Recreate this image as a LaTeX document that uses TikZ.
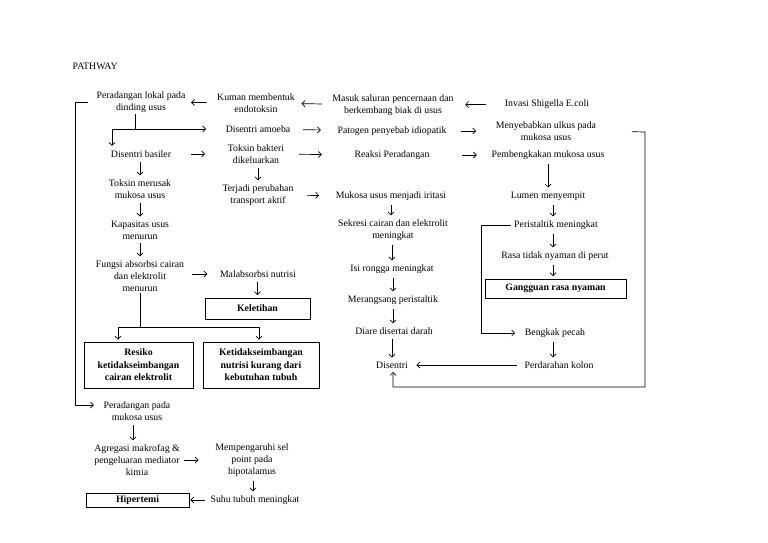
\documentclass[tikz,border=0pt]{standalone}
\usepackage{fontspec}
\setmainfont{Liberation Serif}
\usetikzlibrary{arrows.meta,calc}
\tikzset{
  teks/.style={align=center, inner sep=1.5pt, font=\fontsize{9.8}{12}\selectfont},
  kotak/.style={teks, draw, line width=0.8pt, font=\fontsize{9.8}{12.5}\selectfont\bfseries},
  ar/.style={-{Straight Barb[length=3pt,width=6pt]}, line width=0.7pt},
  av/.style={ar, shorten <=2.5pt, shorten >=2.5pt},
  ln/.style={line width=0.8pt},
  sp/.style 2 args={shorten <=#1pt, shorten >=#2pt},
}
\begin{document}
\begin{tikzpicture}[x=1pt, y=-1pt, every node/.style={teks}]
\useasboundingbox (0,0) rectangle (768,543);
\node[anchor=west] (judul) at (71,66) {PATHWAY};
% baris atas
\node (lokal) at (141,102) {Peradangan lokal pada\\dinding usus};
\node (kuman) at (256,103) {Kuman membentuk\\endotoksin};
\node (masuk) at (393,105) {Masuk saluran pencernaan dan\\berkembang biak di usus};
\node (invasi) at (547,104) {Invasi Shigella E.coli};
\draw[ar, sp={17}{10}] (invasi) -- (masuk);
\draw[ar, sp={9}{5}] (masuk) -- (kuman);
\draw[ar, sp={9}{4}] (kuman) -- (lokal);
% cabang
\coordinate (cab) at (135,129);
\coordinate (cki) at (112,129);
\node (amoeba) at (258,129) {Disentri amoeba};
\node (patogen) at (392,131) {Patogen penyebab idiopatik};
\node (ulkus) at (546,131) {Menyebabkan ulkus pada\\mukosa usus};
\draw[ln] (lokal.south -| cab) -- (cab);
\draw[ar, sp={0}{18}] (cki) -- (amoeba);
\draw[ar, sp={11}{15}] (amoeba) -- (patogen);
\draw[ar, sp={13}{18}] (patogen) -- (ulkus);
% baris 3
\node (basiler) at (141,154) {Disentri basiler};
\node (toksin) at (256,154) {Toksin bakteri\\dikeluarkan};
\node (reaksi) at (392,155) {Reaksi Peradangan};
\node (bengkak) at (548,155) {Pembengkakan mukosa usus};
\draw[ar, sp={0}{3}] (cki) -- (cki |- basiler.north);
\draw[ar, sp={18}{21}] (basiler) -- (toksin);
\draw[ar, sp={13}{31}] (toksin) -- (reaksi);
\draw[ar, sp={31}{13}] (reaksi) -- (bengkak);
% baris 4
\node (merusak) at (140,189) {Toksin merusak\\mukosa usus};
\node (transport) at (258,195) {Terjadi perubahan\\transport aktif};
\node (iritasi) at (391,196) {Mukosa usus menjadi iritasi};
\node (lumen) at (548,196) {Lumen menyempit};
\draw[av] (basiler.south -| merusak.north) -- (merusak.north);
\draw[av] (toksin.south -| transport.north) -- (transport.north);
\draw[ar, sp={12}{15}] (transport) -- (iritasi);
\draw[av] (bengkak.south -| lumen.north) -- (lumen.north);
% baris 5
\node (kapasitas) at (140,230) {Kapasitas usus\\menurun};
\node (sekresi) at (393,230) {Sekresi cairan dan elektrolit\\meningkat};
\node (peris) at (556,225) {Peristaltik meningkat};
\draw[av] (merusak.south -| kapasitas.north) -- (kapasitas.north);
\draw[av] (iritasi.south) -- (iritasi.south |- sekresi.north);
\draw[av] (lumen.south -| 553,0) -- (peris.north -| 553,0);
% baris 6
\node (fungsi) at (140,276) {Fungsi absorbsi cairan\\dan elektrolit\\menurun};
\node (malab) at (258,274) {Malabsorbsi nutrisi};
\node (isi) at (392,269) {Isi rongga meningkat};
\node (rasa) at (555,256) {Rasa tidak nyaman di perut};
\draw[av] (kapasitas.south -| fungsi.north) -- (fungsi.north);
\draw[ar, sp={6}{11}] (fungsi.east |- malab) -- (malab);
\draw[av] (sekresi.south -| isi.north) -- (isi.north);
\draw[av] (peris.south -| 553,0) -- (rasa.north -| 553,0);
\node[kotak, minimum width=105pt, minimum height=21pt] (letih) at (257.5,308.5) {Keletihan};
\node[kotak, minimum width=141pt, minimum height=19pt] (gangguan) at (555.5,288.5) {Gangguan rasa nyaman};
\draw[av] (malab.south -| letih.north) -- (letih.north);
\draw[av] (rasa.south -| 553,0) -- (gangguan.north -| 553,0);
% kolom tengah
\node (merangsang) at (393,300) {Merangsang peristaltik};
\node (diare) at (394,331) {Diare disertai darah};
\node (pecah) at (555,333) {Bengkak pecah};
\node (disentri) at (392,365) {Disentri};
\node (kolon) at (559,365) {Perdarahan kolon};
\draw[av] (isi.south -| merangsang.north) -- (merangsang.north);
\draw[av] (merangsang.south) -- (merangsang.south |- diare.north);
\draw[av] (diare.south -| disentri.north) -- (disentri.north);
\draw[av] (pecah.south -| 553,0) -- (kolon.north -| 553,0);
\draw[ar, sp={6}{7}] (kolon) -- (disentri);
\coordinate (kiri) at (481,225);
\draw[ar, sp={2}{8}] (peris.west) -- (kiri) |- (pecah.west);
\coordinate (kanan) at (645,132);
\coordinate (bawah) at (393,387);
\draw[ar, sp={34}{2}] (ulkus.east) -- (kanan) |- (bawah) -- (disentri.south -| bawah);
% diagnosa
\node[kotak, minimum width=109pt, minimum height=46pt] (resiko) at (138.5,365) {Resiko\\ketidakseimbangan\\cairan elektrolit};
\node[kotak, minimum width=116pt, minimum height=46pt] (nutrisi) at (261,365) {Ketidakseimbangan\\nutrisi kurang dari\\kebutuhan tubuh};
\coordinate (cab2) at (140,327);
\coordinate (ck) at (118,327);
\coordinate (cn) at (259,327);
\draw[ln] (fungsi) -- (cab2);
\draw[ln] (ck) -- (cn);
\draw[ar, sp={0}{2}] (ck) -- (ck |- resiko.north);
\draw[ar, sp={0}{2}] (cn) -- (cn |- nutrisi.north);
% bagian bawah
\node (mukosa) at (137,411) {Peradangan pada\\mukosa usus};
\node (agregasi) at (137,460) {Agregasi makrofag \&\\pengeluaran mediator\\kimia};
\node (hipo) at (252,460) {Mempengaruhi sel\\point pada\\hipotalamus};
\node (suhu) at (255,500) {Suhu tubuh meningkat};
\node[kotak, minimum width=103pt, minimum height=14pt, inner sep=0.5pt] (hiper) at (137.5,500) {Hipertemi};
\coordinate (kiri1) at (75,102);
\draw[ar, sp={7}{8}] (lokal.west) -- (kiri1) |- ([yshift=6pt]mukosa.west);
\draw[av] (mukosa.south -| 133,0) -- (agregasi.north -| 133,0);
\draw[ar, sp={3}{15}] (agregasi) -- (hipo);
\draw[av] (hipo.south -| 253,0) -- (suhu.north -| 253,0);
\draw[ar, sp={4}{1}] (suhu) -- (hiper);
\end{tikzpicture}
\end{document}
